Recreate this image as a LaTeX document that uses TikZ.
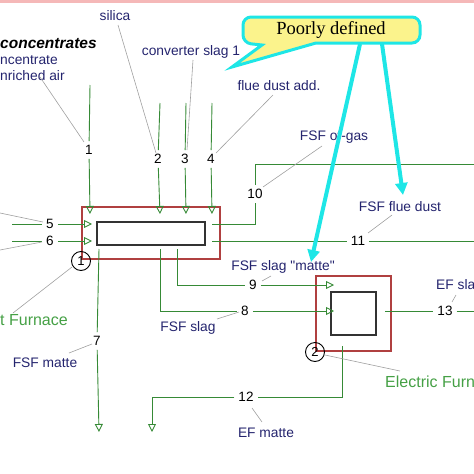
\documentclass[tikz,border=0pt]{standalone}
\usepackage{fontspec}
\setmainfont{Liberation Sans}
\newfontfamily\serifpd{Liberation Serif}
\usetikzlibrary{arrows.meta}
\definecolor{sgreen}{HTML}{368A36}
\definecolor{lgreen}{HTML}{45A045}
\definecolor{navy}{HTML}{24246E}
\definecolor{fred}{HTML}{B04040}
\definecolor{lead}{HTML}{A0A0A0}
\definecolor{cy}{HTML}{1EE6E6}
\definecolor{yel}{HTML}{FBF38C}
\definecolor{pinkish}{HTML}{F5B8B8}
\begin{document}
\begin{tikzpicture}[x=1pt,y=-1pt,
  stream/.style={draw=sgreen, line width=0.9pt},
  feed/.style={stream, -{Triangle[open,length=8pt,width=8pt]}},
  num/.style={font=\fontsize{13.5}{15}\selectfont, inner sep=4pt, text=black},
  lbl/.style={font=\fontsize{13.8}{15}\selectfont, text=navy, inner sep=0pt},
  glbl/.style={font=\fontsize{16}{18}\selectfont, text=lgreen, inner sep=0pt},
  leader/.style={draw=lead, line width=0.6pt},
  furn/.style={draw=fred, line width=1.3pt, inner sep=0pt},
  unit/.style={draw=black!80, line width=1.3pt, inner sep=0pt},
  tag/.style={circle, draw=black, line width=0.9pt, minimum size=19pt, inner sep=0pt, font=\fontsize{13}{15}\selectfont},
  hint/.style={draw=cy, line width=4pt, -{Triangle[length=12pt,width=12pt]}}
]
\useasboundingbox (0,0) rectangle (474,474);
\fill[pinkish] (0,0) rectangle (474,2.5);

% furnaces
\node[furn, minimum width=138pt, minimum height=52pt] (fsf) at (151,233) {};
\node[unit, minimum width=108pt, minimum height=23pt] (fsfin) at (151,233.5) {};
\node[furn, minimum width=75pt, minimum height=75pt] (ef) at (353.5,313.5) {};
\node[unit, minimum width=45pt, minimum height=43pt] (efin) at (353.5,313.5) {};
\node[tag] (t1) at (81,261) {1};
\node[tag] (t2) at (315,352) {2};

% texts
\node[anchor=west, inner sep=0pt, font=\fontsize{15.5}{17}\selectfont\bfseries\itshape] (conc) at (0,44) {concentrates};
\node[lbl, anchor=west] (cc) at (0,60) {ncentrate};
\node[lbl, anchor=west] (ea) at (0,76) {nriched air};
\node[lbl] (sil) at (115,16) {silica};
\node[lbl] (cs) at (191,52) {converter slag 1};
\node[lbl] (fda) at (279,86) {flue dust add.};
\node[lbl] (ofg) at (334,137) {FSF of-gas};
\node[lbl] (ffd) at (400,207) {FSF flue dust};
\node[lbl] (fsm) at (283,267) {FSF slag \textquotedbl matte\textquotedbl};
\node[lbl] (fs) at (188,328) {FSF slag};
\node[lbl] (fm) at (45,363) {FSF matte};
\node[lbl] (efm) at (266,433) {EF matte};
\node[lbl, anchor=west] (efs) at (436,285) {EF sla};
\node[glbl, anchor=west] (fsfname) at (0,320) {t Furnace};
\node[glbl, anchor=west] (efname) at (385,382) {Electric Furn};

% stream labels
\node[num] (n1) at (89,150) {1};
\node[num] (n2) at (158,159) {2};
\node[num] (n3) at (185,159) {3};
\node[num] (n4) at (211,159) {4};
\node[num] (n5) at (50,224) {5};
\node[num] (n6) at (50,241) {6};
\node[num] (n7) at (97,341) {7};
\node[num] (n8) at (245,311) {8};
\node[num] (n9) at (253,285) {9};
\node[num] (n10) at (255,194) {10};
\node[num] (n11) at (358,241) {11};
\node[num] (n12) at (246,397) {12};
\node[num] (n13) at (445,311) {13};

% stream coordinates
\coordinate (s1a) at (90,85);   \coordinate (s1b) at (90,214);
\coordinate (s2a) at (160,103); \coordinate (s2b) at (160,214);
\coordinate (s3a) at (186,103); \coordinate (s3b) at (186,214);
\coordinate (s4a) at (212,103); \coordinate (s4b) at (212,214);
\coordinate (s5a) at (12,224);  \coordinate (s5b) at (92,224);
\coordinate (s6a) at (12,241);  \coordinate (s6b) at (92,241);
\coordinate (s7a) at (99,249);  \coordinate (s7b) at (99,432);
\coordinate (s8a) at (160,249); \coordinate (c8) at (160,311); \coordinate (s8b) at (334,311);
\coordinate (s9a) at (177,249); \coordinate (c9) at (177,285); \coordinate (s9b) at (334,285);
\coordinate (s10a) at (212,224); \coordinate (c10a) at (255,224); \coordinate (c10b) at (255,164); \coordinate (s10b) at (474,164);
\coordinate (s11a) at (212,241); \coordinate (s11b) at (474,241);
\coordinate (s12a) at (342,346); \coordinate (c12a) at (342,397); \coordinate (c12b) at (152,397); \coordinate (s12b) at (152,432);
\coordinate (s13a) at (385,311); \coordinate (s13b) at (474,311);

\draw[stream] (s1a) -- (n1); \draw[feed] (n1) -- (s1b);
\draw[stream] (s2a) -- (n2); \draw[feed] (n2) -- (s2b);
\draw[stream] (s3a) -- (n3); \draw[feed] (n3) -- (s3b);
\draw[stream] (s4a) -- (n4); \draw[feed] (n4) -- (s4b);
\draw[stream] (s5a) -- (n5); \draw[feed] (n5) -- (s5b);
\draw[stream] (s6a) -- (n6); \draw[feed] (n6) -- (s6b);
\draw[stream] (s7a) -- (n7); \draw[feed] (n7) -- (s7b);
\draw[stream] (s8a) -- (c8) -- (n8); \draw[feed] (n8) -- (s8b);
\draw[stream] (s9a) -- (c9) -- (n9); \draw[feed] (n9) -- (s9b);
\draw[stream] (s10a) -- (c10a) -- (n10); \draw[stream] (n10) -- (c10b) -- (s10b);
\draw[stream] (s11a) -- (n11); \draw[stream] (n11) -- (s11b);
\draw[stream] (s12a) -- (c12a) -- (n12); \draw[feed] (n12) -- (c12b) -- (s12b);
\draw[stream] (s13a) -- (n13); \draw[stream] (n13) -- (s13b);

% leader lines
\coordinate (l1a) at (40,77);   \coordinate (l1b) at (84,142);
\coordinate (l2a) at (118,25);  \coordinate (l2b) at (156,153);
\coordinate (l3a) at (193,60);  \coordinate (l3b) at (187,150);
\coordinate (l4a) at (273,95);  \coordinate (l4b) at (216,153);
\coordinate (l5a) at (0,213);   \coordinate (l5b) at (43,222);
\coordinate (l6a) at (0,250);   \coordinate (l6b) at (42,242);
\coordinate (lt1a) at (72,267); \coordinate (lt1b) at (13,313);
\coordinate (l7a) at (92,344);  \coordinate (l7b) at (69,353);
\coordinate (l8a) at (239,312); \coordinate (l8b) at (217,319);
\coordinate (l9a) at (262,281); \coordinate (l9b) at (271,276);
\coordinate (l10a) at (263,187); \coordinate (l10b) at (322,146);
\coordinate (l11a) at (368,233); \coordinate (l11b) at (392,215);
\coordinate (l12a) at (252,408); \coordinate (l12b) at (262,422);
\coordinate (l13a) at (452,302); \coordinate (l13b) at (456,295);
\coordinate (lt2a) at (325,355); \coordinate (lt2b) at (400,371);
\foreach \a/\b in {l1a/l1b,l2a/l2b,l3a/l3b,l4a/l4b,l5a/l5b,l6a/l6b,lt1a/lt1b,l7a/l7b,l8a/l8b,l9a/l9b,l10a/l10b,l11a/l11b,l12a/l12b,l13a/l13b,lt2a/lt2b}
  \draw[leader] (\a) -- (\b);

% callout
\draw[draw=cy, line width=3pt, fill=yel, rounded corners=8pt]
  (316,43) -- (420,43) -- (420,17) -- (243,17) -- (243,43) [sharp corners] -- (262,45) -- (232,67) -- cycle;
\node[font=\serifpd\fontsize{18.5}{20}\selectfont, inner sep=0pt] (pd) at (331,30) {Poorly defined};
\coordinate (h1a) at (360,44); \coordinate (h1b) at (311,262);
\coordinate (h2a) at (382,44); \coordinate (h2b) at (403,195);
\draw[hint] (h1a) -- (h1b);
\draw[hint] (h2a) -- (h2b);
\end{tikzpicture}
\end{document}
